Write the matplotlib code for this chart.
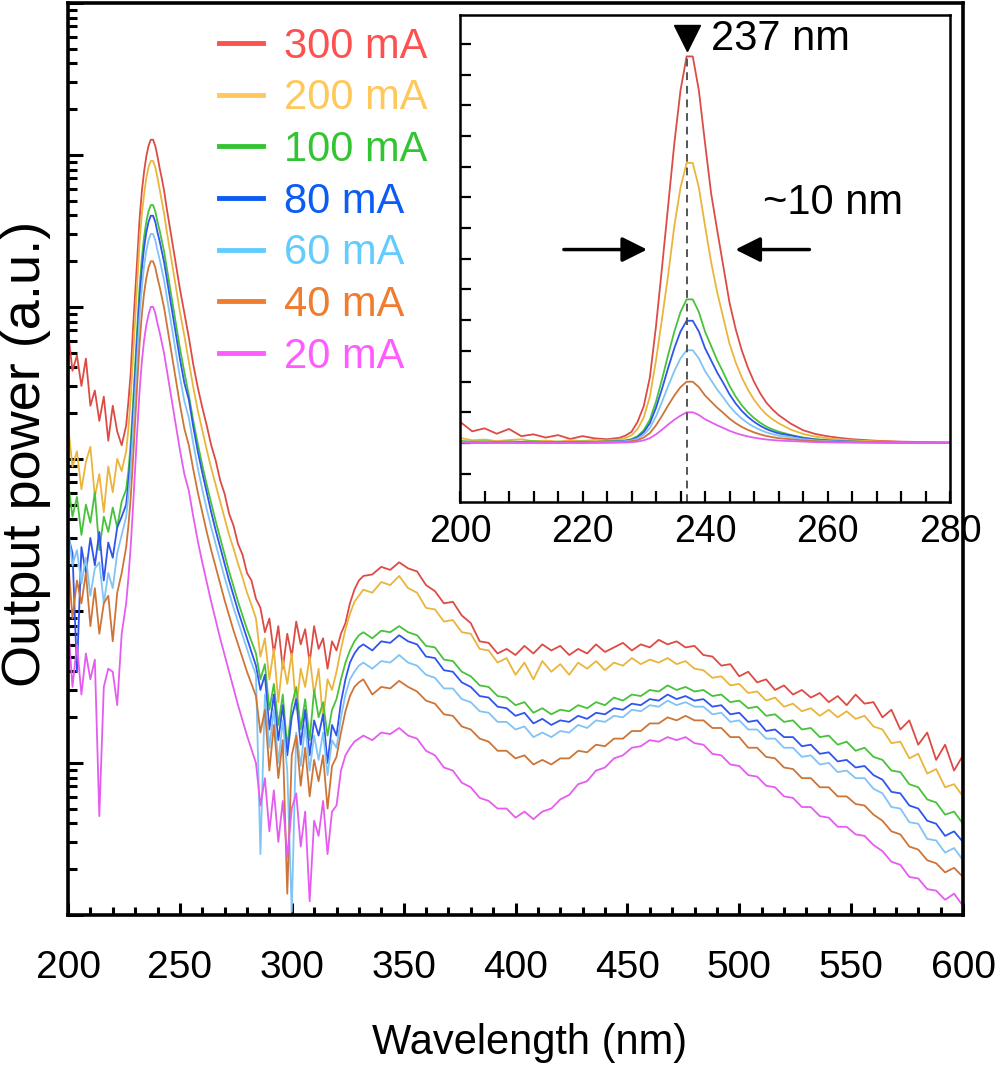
import numpy as np
import matplotlib
matplotlib.use("Agg")
import matplotlib.pyplot as plt
from matplotlib.lines import Line2D
from matplotlib.ticker import MultipleLocator, LogLocator, NullFormatter

plt.rcParams['font.family'] = ['Liberation Sans', 'DejaVu Sans']

# ------------------------------------------------------------
# Datos: longitud de onda (nm) y log10 de la potencia (a.u.)
# ------------------------------------------------------------
wl_a = np.arange(200, 225, 2)   # 200..224
wl_b = np.arange(226, 253, 1)   # 226..252 (pico)
wl_c = np.arange(254, 333, 2)   # 254..332
wl_d = np.arange(336, 601, 4)   # 336..600
wavelength = np.concatenate([wl_a, wl_b, wl_c, wl_d])

log_300 = [
    3.84, 3.58, 3.68, 3.48, 3.66, 3.35, 3.45, 3.25, 3.41, 3.12, 3.35, 3.18, 3.09,
    3.22, 3.38, 3.56, 3.84, 4.08, 4.33, 4.58, 4.76, 4.89, 4.99, 5.06, 5.10, 5.10, 5.06,
    4.99, 4.91, 4.84, 4.76, 4.66, 4.57, 4.48, 4.39, 4.30, 4.21, 4.12, 4.04, 3.96,
    3.80, 3.62, 3.47, 3.34, 3.22, 3.09, 2.99, 2.86, 2.77, 2.64, 2.56, 2.44, 2.37, 2.25,
    2.20, 2.08, 2.02, 1.86, 1.95, 1.72, 1.90, 1.62, 1.85, 1.70, 1.93, 1.78, 1.88, 1.66,
    1.90, 1.75, 1.82, 1.62, 1.80, 1.74, 1.85, 1.92, 2.05, 2.14, 2.20, 2.23,
    2.24, 2.29, 2.27, 2.32, 2.28, 2.26, 2.17, 2.13, 2.05, 2.06, 1.97, 1.92, 1.80, 1.79,
    1.72, 1.75, 1.71, 1.77, 1.72, 1.78, 1.74, 1.77, 1.71, 1.75, 1.72, 1.78, 1.73, 1.76,
    1.79, 1.74, 1.78, 1.76, 1.81, 1.78, 1.80, 1.76, 1.77, 1.71, 1.70, 1.64, 1.65, 1.57,
    1.60, 1.53, 1.55, 1.48, 1.51, 1.45, 1.48, 1.43, 1.46, 1.40, 1.44, 1.38, 1.45, 1.39,
    1.40, 1.30, 1.35, 1.22, 1.28, 1.12, 1.20, 1.02, 1.12, 0.95, 1.05,
]
log_200 = [
    3.22, 2.95, 3.05, 2.80, 2.98, 3.08, 2.75, 2.90, 2.65, 2.95, 2.78, 3.00, 2.92,
    3.05, 3.20, 3.40, 3.66, 3.92, 4.18, 4.43, 4.61, 4.74, 4.85, 4.92, 4.96, 4.96, 4.92,
    4.85, 4.77, 4.69, 4.61, 4.51, 4.42, 4.33, 4.24, 4.15, 4.06, 3.97, 3.89, 3.81,
    3.64, 3.47, 3.32, 3.19, 3.06, 2.94, 2.83, 2.72, 2.61, 2.50, 2.41, 2.31, 2.22, 2.12,
    2.04, 1.95, 1.70, 1.82, 1.55, 1.75, 1.40, 1.68, 1.52, 1.72, 1.35, 1.62, 1.50, 1.70,
    1.45, 1.62, 1.28, 1.55, 1.48, 1.60, 1.75, 1.88, 1.98, 2.06, 2.10, 2.14,
    2.12, 2.19, 2.17, 2.23, 2.15, 2.12, 2.02, 2.01, 1.93, 1.94, 1.86, 1.85, 1.75, 1.74,
    1.66, 1.69, 1.58, 1.66, 1.55, 1.67, 1.60, 1.65, 1.58, 1.66, 1.62, 1.67, 1.61, 1.66,
    1.64, 1.69, 1.65, 1.68, 1.66, 1.69, 1.65, 1.67, 1.62, 1.61, 1.56, 1.57, 1.51, 1.52,
    1.46, 1.47, 1.41, 1.43, 1.37, 1.39, 1.34, 1.36, 1.31, 1.35, 1.30, 1.34, 1.29, 1.31,
    1.24, 1.22, 1.13, 1.14, 1.03, 1.06, 0.93, 0.96, 0.84, 0.86, 0.78,
]
log_100 = [
    2.85, 2.62, 2.75, 2.50, 2.70, 2.58, 2.78, 2.40, 2.62, 2.52, 2.68, 2.55, 2.72,
    2.80, 2.92, 3.10, 3.35, 3.62, 3.88, 4.13, 4.32, 4.46, 4.56, 4.63, 4.67, 4.67, 4.63,
    4.56, 4.50, 4.43, 4.36, 4.27, 4.18, 4.09, 4.00, 3.91, 3.82, 3.73, 3.65, 3.57,
    3.42, 3.25, 3.10, 2.96, 2.83, 2.71, 2.59, 2.48, 2.37, 2.26, 2.16, 2.06, 1.97, 1.88,
    1.80, 1.72, 1.55, 1.65, 1.35, 1.52, 1.25, 1.45, 1.10, 1.38, 1.50, 1.22, 1.42, 1.15,
    1.48, 1.30, 1.40, 1.18, 1.35, 1.42, 1.55, 1.66, 1.74, 1.80, 1.84, 1.86,
    1.82, 1.87, 1.86, 1.90, 1.86, 1.84, 1.77, 1.76, 1.68, 1.67, 1.60, 1.57, 1.51, 1.50,
    1.44, 1.43, 1.38, 1.40, 1.33, 1.36, 1.32, 1.35, 1.34, 1.38, 1.36, 1.40, 1.38, 1.43,
    1.41, 1.45, 1.44, 1.48, 1.47, 1.51, 1.48, 1.50, 1.47, 1.48, 1.44, 1.45, 1.40, 1.41,
    1.36, 1.37, 1.31, 1.32, 1.27, 1.28, 1.22, 1.23, 1.17, 1.18, 1.12, 1.14, 1.08, 1.10,
    1.04, 1.02, 0.95, 0.94, 0.86, 0.84, 0.76, 0.74, 0.66, 0.68, 0.60,
]
log_80 = [
    2.50, 2.38, 1.60, 2.42, 2.25, 2.48, 2.30, 2.52, 2.20, 2.45, 2.35, 2.55, 2.62,
    2.70, 2.85, 3.03, 3.28, 3.55, 3.81, 4.06, 4.25, 4.39, 4.49, 4.56, 4.60, 4.60, 4.56,
    4.49, 4.43, 4.36, 4.29, 4.20, 4.11, 4.02, 3.93, 3.84, 3.75, 3.66, 3.58, 3.50,
    3.39, 3.21, 3.05, 2.91, 2.78, 2.65, 2.53, 2.42, 2.31, 2.20, 2.10, 2.00, 1.91, 1.82,
    1.73, 1.64, 1.48, 1.58, 1.22, 1.45, 1.15, 1.38, 1.05, 1.30, 1.42, 1.12, 1.35, 1.05,
    1.28, 1.18, 1.32, 1.00, 1.25, 1.18, 1.40, 1.55, 1.66, 1.72, 1.76, 1.78,
    1.74, 1.80, 1.79, 1.84, 1.80, 1.78, 1.70, 1.69, 1.61, 1.60, 1.53, 1.50, 1.44, 1.43,
    1.37, 1.36, 1.31, 1.33, 1.26, 1.29, 1.25, 1.28, 1.27, 1.31, 1.29, 1.33, 1.32, 1.36,
    1.35, 1.39, 1.38, 1.42, 1.41, 1.45, 1.42, 1.44, 1.41, 1.42, 1.37, 1.38, 1.32, 1.33,
    1.27, 1.28, 1.21, 1.22, 1.17, 1.17, 1.11, 1.12, 1.06, 1.07, 1.01, 1.02, 0.97, 0.98,
    0.92, 0.89, 0.81, 0.80, 0.72, 0.70, 0.62, 0.60, 0.52, 0.55, 0.48,
]
log_60 = [
    2.55, 2.30, 2.40, 2.18, 2.35, 2.10, 2.28, 2.32, 2.05, 2.25, 2.15, 2.38, 2.50,
    2.62, 2.76, 2.93, 3.17, 3.43, 3.69, 3.94, 4.13, 4.27, 4.37, 4.44, 4.48, 4.48, 4.44,
    4.37, 4.31, 4.24, 4.17, 4.08, 3.99, 3.90, 3.81, 3.72, 3.63, 3.54, 3.46, 3.38,
    3.27, 3.10, 2.94, 2.80, 2.67, 2.55, 2.44, 2.33, 2.22, 2.12, 2.02, 1.93, 1.84, 1.75,
    1.66, 1.58, 0.40, 1.45, 1.10, 1.35, 1.00, 1.28, 0.95, 0.02, 1.20, 0.98, 1.25, 0.95,
    1.18, 1.02, 1.20, 0.92, 1.15, 1.10, 1.30, 1.45, 1.55, 1.60, 1.64, 1.66,
    1.62, 1.67, 1.66, 1.71, 1.66, 1.64, 1.58, 1.56, 1.49, 1.49, 1.42, 1.40, 1.34, 1.33,
    1.27, 1.27, 1.22, 1.24, 1.17, 1.20, 1.17, 1.21, 1.20, 1.25, 1.23, 1.28, 1.27, 1.31,
    1.30, 1.35, 1.34, 1.38, 1.37, 1.41, 1.38, 1.40, 1.37, 1.37, 1.32, 1.33, 1.27, 1.28,
    1.22, 1.22, 1.16, 1.16, 1.10, 1.10, 1.04, 1.05, 0.99, 1.00, 0.94, 0.95, 0.90, 0.90,
    0.83, 0.80, 0.71, 0.70, 0.61, 0.60, 0.50, 0.49, 0.41, 0.44, 0.36,
]
log_40 = [
    2.35, 1.95, 2.20, 2.05, 2.25, 1.90, 2.15, 1.85, 2.05, 2.10, 1.80, 2.12, 2.25,
    2.42, 2.56, 2.74, 2.98, 3.25, 3.51, 3.76, 3.95, 4.09, 4.19, 4.26, 4.30, 4.30, 4.26,
    4.19, 4.13, 4.06, 3.99, 3.90, 3.81, 3.72, 3.63, 3.54, 3.45, 3.36, 3.28, 3.20,
    3.09, 2.93, 2.78, 2.65, 2.52, 2.40, 2.29, 2.18, 2.07, 1.97, 1.87, 1.78, 1.69, 1.60,
    1.52, 1.44, 1.20, 1.35, 0.95, 1.25, 0.90, 1.15, 0.14, 1.05, 1.18, 0.85, 1.10, 0.78,
    1.02, 0.88, 1.05, 0.70, 0.98, 1.04, 1.20, 1.34, 1.44, 1.50, 1.53, 1.55,
    1.45, 1.50, 1.49, 1.54, 1.50, 1.47, 1.41, 1.39, 1.32, 1.31, 1.24, 1.22, 1.16, 1.14,
    1.08, 1.08, 1.03, 1.05, 0.99, 1.02, 0.99, 1.03, 1.03, 1.08, 1.07, 1.12, 1.11, 1.16,
    1.16, 1.21, 1.21, 1.26, 1.26, 1.30, 1.28, 1.31, 1.28, 1.28, 1.23, 1.23, 1.17, 1.17,
    1.10, 1.10, 1.04, 1.03, 0.97, 0.96, 0.90, 0.90, 0.84, 0.84, 0.78, 0.78, 0.73, 0.72,
    0.66, 0.62, 0.55, 0.53, 0.45, 0.43, 0.36, 0.34, 0.28, 0.31, 0.25,
]
log_20 = [
    1.92, 1.50, 1.78, 1.45, 1.72, 1.55, 1.68, 0.65, 1.50, 1.62, 1.60, 1.38, 1.85,
    2.05, 2.22, 2.42, 2.67, 2.94, 3.20, 3.45, 3.64, 3.78, 3.88, 3.95, 4.00, 4.00, 3.96,
    3.89, 3.83, 3.76, 3.69, 3.60, 3.51, 3.42, 3.33, 3.24, 3.15, 3.06, 2.98, 2.90,
    2.79, 2.62, 2.46, 2.32, 2.19, 2.06, 1.94, 1.82, 1.71, 1.60, 1.49, 1.38, 1.28, 1.18,
    1.09, 1.00, 0.72, 0.90, 0.55, 0.82, 0.48, 0.75, 0.38, 0.70, 0.80, 0.45, 0.68, 0.09,
    0.62, 0.52, 0.75, 0.40, 0.68, 0.72, 0.95, 1.05, 1.10, 1.14, 1.16, 1.18,
    1.15, 1.20, 1.19, 1.23, 1.18, 1.16, 1.08, 1.05, 0.97, 0.95, 0.87, 0.84, 0.77, 0.75,
    0.70, 0.70, 0.64, 0.68, 0.63, 0.68, 0.70, 0.76, 0.79, 0.86, 0.88, 0.95, 0.97, 1.03,
    1.05, 1.10, 1.11, 1.15, 1.14, 1.17, 1.15, 1.17, 1.13, 1.12, 1.06, 1.05, 0.99, 0.98,
    0.92, 0.91, 0.85, 0.84, 0.78, 0.77, 0.71, 0.71, 0.65, 0.64, 0.58, 0.58, 0.53, 0.52,
    0.46, 0.42, 0.35, 0.33, 0.25, 0.24, 0.17, 0.16, 0.10, 0.14, 0.06,
]

currents = ["300 mA", "200 mA", "100 mA", "80 mA", "60 mA", "40 mA", "20 mA"]
series = [log_300, log_200, log_100, log_80, log_60, log_40, log_20]
line_colors = ["#dd4b45", "#eab53c", "#47c23a", "#2f55ee", "#80c4f6", "#cd7538", "#e55cf0"]
text_colors = ["#ff5050", "#ffc85a", "#33c433", "#0a5cf2", "#62ccff", "#f07c30", "#ff5cff"]

peak_nm = 237
inset_unit = 1e4

# ------------------------------------------------------------
# Figura
# ------------------------------------------------------------
fig = plt.figure(figsize=(10, 10.68), dpi=100)
ax = fig.add_axes([0.068, 0.1433, 0.895, 0.854])

for d, c in zip(series, line_colors):
    ax.plot(wavelength, 10 ** np.array(d), color=c, lw=1.3)

ax.set_yscale("log")
ax.set_xlim(200, 600)
ax.set_ylim(1, 1e6)
ax.xaxis.set_major_locator(MultipleLocator(50))
ax.xaxis.set_minor_locator(MultipleLocator(10))
ax.yaxis.set_major_locator(LogLocator(base=10, numticks=20))
ax.yaxis.set_minor_locator(LogLocator(base=10, subs=np.arange(2, 10), numticks=20))
ax.yaxis.set_major_formatter(NullFormatter())
ax.yaxis.set_minor_formatter(NullFormatter())
ax.tick_params(axis="both", which="both", direction="in", top=False, right=False, width=2.2)
ax.tick_params(axis="y", which="major", length=11)
ax.tick_params(axis="y", which="minor", length=6.5)
ax.tick_params(axis="x", which="major", length=9, labelsize=28, pad=25)
ax.tick_params(axis="x", which="minor", length=6)
for s in ax.spines.values():
    s.set_linewidth(2.6)

fig.text(0.53, 0.023, "Wavelength (nm)", ha="center", va="center", fontsize=30)
fig.text(0.026, 0.575, "Output power (a.u.)", ha="center", va="center",
         rotation=90, fontsize=39)

handles = [Line2D([], [], color=c, lw=3.5) for c in text_colors]
fig.legend(handles, currents, loc="upper left", bbox_to_anchor=(0.219, 0.975),
           frameon=False, fontsize=30, handlelength=1.05, handletextpad=0.5,
           labelspacing=0.28, labelcolor=text_colors, borderpad=0, borderaxespad=0)

# ------------------------------------------------------------
# Recuadro lineal
# ------------------------------------------------------------
ax_in = fig.add_axes([0.46, 0.53, 0.49, 0.456])
for d, c in zip(series, line_colors):
    ax_in.plot(wavelength, 10 ** np.array(d) / inset_unit, color=c, lw=1.3)
ax_in.set_xlim(200, 280)
ax_in.set_ylim(-1.92, 13.94)
ax_in.xaxis.set_major_locator(MultipleLocator(20))
ax_in.xaxis.set_minor_locator(MultipleLocator(4))
ax_in.yaxis.set_major_locator(MultipleLocator(1))
ax_in.yaxis.set_major_formatter(NullFormatter())
ax_in.tick_params(axis="both", which="both", direction="in", top=False, right=False,
                  width=1.6, length=8)
ax_in.tick_params(axis="x", labelsize=27, pad=9)
for s in ax_in.spines.values():
    s.set_linewidth(1.8)

ax_in.vlines(peak_nm, -1.92, 12.6, colors="#555555", linestyles=(0, (4, 3)), lw=1.4)
ax_in.plot(peak_nm, 13.2, marker="v", ms=19, color="k")
ax_in.text(241.0, 13.15, f"{peak_nm} nm", ha="left", va="center", fontsize=30)
ax_in.text(249.4, 7.8, "~10 nm", ha="left", va="center", fontsize=30)
ax_in.annotate("", xy=(231.0, 6.3), xytext=(216.5, 6.3),
               arrowprops=dict(arrowstyle="-|>", lw=2.5, color="k", mutation_scale=38))
ax_in.annotate("", xy=(244.5, 6.3), xytext=(257.5, 6.3),
               arrowprops=dict(arrowstyle="-|>", lw=2.5, color="k", mutation_scale=38))

fig.savefig("out.png", dpi=100)
